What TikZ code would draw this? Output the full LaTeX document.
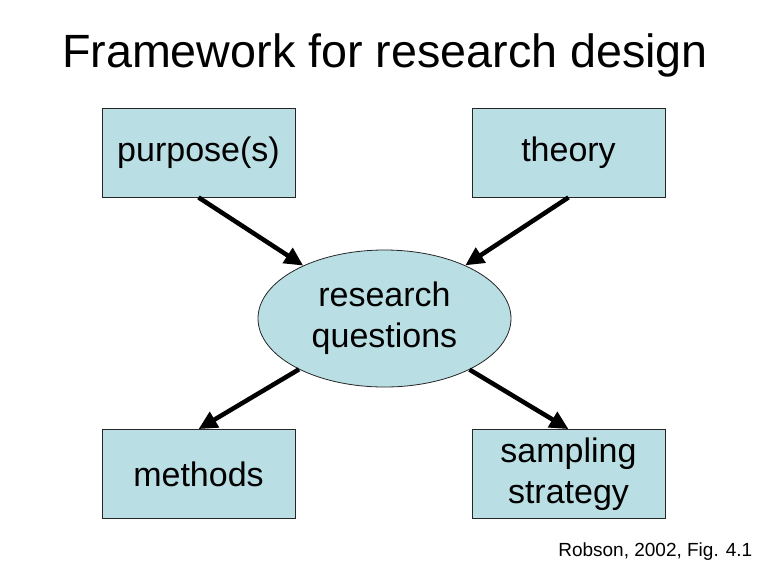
\documentclass[tikz,border=0pt]{standalone}
\usepackage{fontspec}
\setmainfont{Liberation Sans}
\usetikzlibrary{shapes.geometric,arrows.meta}
\definecolor{boxfill}{RGB}{185,223,228}
\tikzset{
  box/.style={draw=black!85,line width=0.6pt,fill=boxfill,minimum width=144.75pt,minimum height=66.75pt,
    align=center,font=\fontsize{25.5}{30.5}\selectfont},
  bubble/.style={box,ellipse,minimum width=189.75pt,minimum height=102.75pt,inner sep=0pt},
  arr/.style={-{Triangle[length=14pt,width=13pt]},line width=3.4pt}
}
\begin{document}
\begin{tikzpicture}[x=0.75pt,y=-0.75pt]
\useasboundingbox (0,0) rectangle (768,576);
\node[anchor=base,font=\fontsize{35}{40}\selectfont] (title) at (385,67) {Framework for research design};
\node[box] (purpose) at (198.5,152.5) {purpose(s)};
\node[box] (theory) at (568.5,152.5) {theory};
\node[bubble] (rq) at (384.5,318.5) {research\\questions};
\node[box] (methods) at (198.5,474) {methods};
\node[box] (sampling) at (568.5,474) {sampling\\strategy};
\draw[arr] (purpose.south) -- (rq);
\draw[arr] (theory.south) -- (rq);
\draw[arr] (rq) -- (methods.north);
\draw[arr] (rq) -- (sampling.north);
\node[anchor=base east,font=\fontsize{14.25}{17}\selectfont] (cite) at (757,556) {Robson, 2002, Fig. 4.1};
\end{tikzpicture}
\end{document}
